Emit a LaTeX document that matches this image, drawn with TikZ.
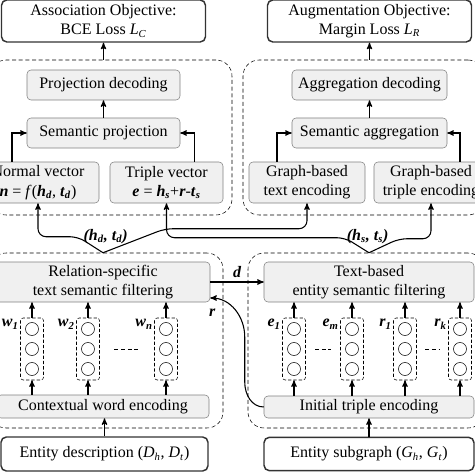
\documentclass[tikz,border=0pt]{standalone}
\usepackage{fontspec}
\setmainfont{Liberation Serif}
\usepackage{tikz}
\usetikzlibrary{arrows,positioning,calc}

\newcommand{\bi}[1]{\textbf{\textit{#1}}}
\newcommand{\subs}[1]{\textsubscript{#1}}

\begin{document}
\begin{tikzpicture}[x=0.75pt,y=0.75pt,>=stealth',
  every node/.style={font=\fontsize{12}{14.5}\selectfont},
  box/.style={draw=black!50,fill=black!6,rounded corners=3pt,align=center,inner sep=1pt},
  goal/.style={draw=black!80,line width=1.1pt,fill=white,rounded corners=4pt,align=center,inner sep=1pt,minimum width=153pt},
  group/.style={draw,dash pattern=on 3pt off 2pt,rounded corners=12pt,minimum height=116.25pt},
  col/.style={draw,dash pattern=on 2.5pt off 1.5pt,rounded corners=2pt,minimum width=17.25pt,minimum height=46.5pt},
  unit/.style={draw,circle,minimum size=9.75pt,inner sep=0pt},
  lab/.style={font=\fontsize{12}{14.5}\selectfont\bfseries\itshape,inner sep=1pt},
  link/.style={->,line width=0.8pt}]
  \useasboundingbox (0,0) rectangle (474,-474);

  % objectives
  \node[goal,minimum height=31.5pt] (lossC) at (103.5,-21) {Association Objective:\\BCE Loss \textit{L}\subs{\textit{C}}};
  \node[goal,minimum height=31.5pt] (lossR) at (369.5,-21) {Augmentation Objective:\\Margin Loss \textit{L}\subs{\textit{R}}};

  % dashed groups
  \node[group,minimum width=181.5pt] (upL) at (111,-137.5) {};
  \node[group,minimum width=180.75pt] (upR) at (363.5,-137.5) {};
  \node[group,minimum width=174.75pt,minimum height=131.25pt] (loL) at (106.5,-340.5) {};
  \node[group,minimum width=177pt,minimum height=131.25pt] (loR) at (366,-340.5) {};

  % association side
  \node[box,minimum width=114.75pt,minimum height=22.5pt] (projdec) at (103.5,-85) {Projection decoding};
  \node[box,minimum width=114.75pt,minimum height=22.5pt] (semproj) at (103.5,-133) {Semantic projection};
  \node[box,minimum width=91.5pt,minimum height=30.75pt] (normvec) at (38,-182.5) {Normal vector\\\bi{n} = \textit{f}(\bi{h}\subs{\bi{d}}, \bi{t}\subs{\bi{d}})};
  \node[box,minimum width=84.75pt,minimum height=30.75pt] (tripvec) at (166.5,-182.5) {Triple vector\\\bi{e} = \bi{h}\subs{\bi{s}}+\bi{r}-\bi{t}\subs{\bi{s}}};

  % augmentation side
  \node[box,minimum width=116.25pt,minimum height=22.5pt] (aggdec) at (369.5,-85) {Aggregation decoding};
  \node[box,minimum width=116.25pt,minimum height=22.5pt] (semagg) at (369.5,-133) {Semantic aggregation};
  \node[box,minimum width=87pt,minimum height=30.75pt] (gtext) at (307,-182.5) {Graph-based\\text encoding};
  \node[box,minimum width=85.5pt,minimum height=30.75pt] (gtrip) at (431,-182.5) {Graph-based\\triple encoding};

  % filtering and encoding
  \node[box,minimum width=160.5pt,minimum height=30pt] (relfilt) at (103,-282) {Relation-specific\\text semantic filtering};
  \node[box,minimum width=157.5pt,minimum height=30pt] (txtfilt) at (369,-282) {Text-based\\entity semantic filtering};
  \node[box,minimum width=159pt,minimum height=17.25pt] (ctxenc) at (103,-406.5) {Contextual word encoding};
  \node[box,minimum width=157.5pt,minimum height=16.5pt] (initenc) at (369,-407) {Initial triple encoding};

  % inputs
  \node[goal,minimum width=155.25pt,minimum height=25.5pt] (entdesc) at (104.5,-454) {Entity description (\textit{D}\subs{\textit{h}}, \textit{D}\subs{\textit{t}})};
  \node[goal,minimum width=157.5pt,minimum height=25pt] (entsub) at (369,-454) {Entity subgraph (\textit{G}\subs{\textit{h}}, \textit{G}\subs{\textit{t}})};

  % word columns
  \foreach \x/\n/\t in {32/w1/{\bi{w}\subs{\bi{1}}},88/w2/{\bi{w}\subs{\bi{2}}},166/wn/{\bi{w}\subs{\bi{n}}}}{
    \node[col] (\n) at (\x,-349) {};
    \foreach \y [count=\k] in {-329,-349,-369} \node[unit] (\n-\k) at (\x,\y) {};
    \node[lab,anchor=east] (\n lab) at ([yshift=-5pt]\n.north west) {\t};
    \draw[link] (ctxenc.north -| \n.south) -- (\n.south);
    \draw[link] (\n.north) -- (\n.north |- relfilt.south);
  }
  % triple columns
  \foreach \x/\n/\t in {294/e1/{\bi{e}\subs{\bi{1}}},352/em/{\bi{e}\subs{\bi{m}}},405/r1/{\bi{r}\subs{\bi{1}}},460/rk/{\bi{r}\subs{\bi{k}}}}{
    \node[col] (\n) at (\x,-349) {};
    \foreach \y [count=\k] in {-329,-349,-369} \node[unit] (\n-\k) at (\x,\y) {};
    \node[lab,anchor=east] (\n lab) at ([yshift=-5pt]\n.north west) {\t};
    \draw[link] (initenc.north -| \n.south) -- (\n.south);
    \draw[link] (\n.north) -- (\n.north |- txtfilt.south);
  }
  \draw[semithick,dash pattern=on 3pt off 2pt,shorten <=11pt,shorten >=11pt] (w2) -- (wn);
  \draw[semithick,dash pattern=on 3pt off 2pt,shorten <=7pt,shorten >=7pt] (e1) -- (em);
  \draw[semithick,dash pattern=on 3pt off 2pt,shorten <=6.4pt,shorten >=6.4pt] (r1) -- (rk);

  % vertical flow
  \draw[link] (lossC.south |- upL.north) -- (lossC.south);
  \draw[link] (lossR.south |- upR.north) -- (lossR.south);
  \draw[link] (semproj) -- (projdec);
  \draw[link] (semagg) -- (aggdec);
  \draw[link] ([xshift=-19.5pt]normvec.north) |- (semproj.west);
  \draw[link] ([xshift=21pt]tripvec.north) |- (semproj.east);
  \draw[link] ([xshift=-22.5pt]gtext.north) |- (semagg.west);
  \draw[link] ([xshift=21.75pt]gtrip.north) |- (semagg.east);
  \draw[link] (entdesc.north) -- (entdesc.north |- ctxenc.south);
  \draw[link] (entsub.north) -- (entsub.north |- initenc.south);

  % d and r between the filters
  \draw[link] (relfilt.east) -- node[lab,above=2pt] (dlab) {d} (txtfilt.west);
  \draw[link] (initenc.west) to[out=180,in=-90] ++(-19,25) -- ++(0,45) to[out=90,in=0] ([yshift=-12pt]relfilt.east);
  \node[lab] (rlab) at ([xshift=1.5pt,yshift=-23pt]relfilt.east) {r};

  % hidden states to the upper parts
  \coordinate (hd) at (relfilt.north |- loL.north);
  \coordinate (hs) at (txtfilt.north |- loR.north);
  \node[lab] (hdlab) at ([xshift=2pt,yshift=12pt]hd) {(\bi{h}\subs{\bi{d}}, \bi{t}\subs{\bi{d}})};
  \node[lab] (hslab) at ([xshift=-1pt,yshift=12pt]hs) {(\bi{h}\subs{\bi{s}}, \bi{t}\subs{\bi{s}})};
  \draw[link,rounded corners=6pt] (hd) -- ++(-25,16) -| (normvec.south);
  \draw[link,rounded corners=6pt] (hd) -- ++(62,24) -| (gtext.south);
  \draw[link,rounded corners=6pt] (hs) -- ++(-24,15) -| (tripvec.south);
  \draw[link,rounded corners=6pt] (hs) -- ++(30,14) -| (gtrip.south);
\end{tikzpicture}
\end{document}
